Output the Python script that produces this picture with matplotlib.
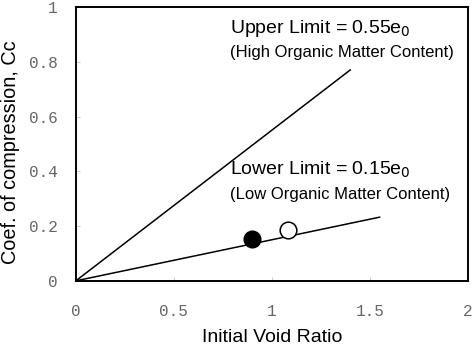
import matplotlib
matplotlib.use("Agg")
import matplotlib.pyplot as plt
import numpy as np

# limits: Cc = k * e0
upper_k = 0.55
lower_k = 0.15
upper_e_max = 1.40
lower_e_max = 1.55

# measured soils
filled_e = [0.90]
filled_cc = [0.152]
open_e = [1.08]
open_cc = [0.186]

x_ticks = [0, 0.5, 1, 1.5, 2]
x_tick_labels = ["0", "0.5", "1", "1.5", "2"]
y_ticks = [0, 0.2, 0.4, 0.6, 0.8, 1]
y_tick_labels = ["0", "0.2", "0.4", "0.6", "0.8", "1"]

plt.rcParams['font.family'] = ['Liberation Sans', 'DejaVu Sans']

fig = plt.figure(figsize=(4.74, 3.48), dpi=100)
ax = fig.add_axes([0.160, 0.193, 0.827, 0.787])

ex_u = np.array([0, upper_e_max])
ex_l = np.array([0, lower_e_max])
ax.plot(ex_u, upper_k * ex_u, color='black', lw=1.1)
ax.plot(ex_l, lower_k * ex_l, color='black', lw=1.1)

ax.plot(filled_e, filled_cc, 'o', ms=12, mfc='black', mec='black', zorder=3)
ax.plot(open_e, open_cc, 'o', ms=12, mfc='white', mec='black', mew=1.1, zorder=3)

ax.set_xlim(0, 2)
ax.set_ylim(0, 1)
ax.set_xticks(x_ticks)
ax.set_xticklabels(x_tick_labels)
ax.set_yticks(y_ticks)
ax.set_yticklabels(y_tick_labels)
ax.tick_params(direction='in', length=3, color='#cccccc', labelcolor='#666666',
               labelsize=11.5, width=0.8)
ax.tick_params(axis='x', pad=17)
ax.tick_params(axis='y', pad=13)
for lbl in ax.get_xticklabels() + ax.get_yticklabels():
    lbl.set_family('Liberation Mono')

for sp in ax.spines.values():
    sp.set_linewidth(1.4)

ax.set_ylabel("Coef. of compression, Cc", fontsize=14.3)
ax.set_xlabel("Initial Void Ratio", fontsize=14)
ax.yaxis.set_label_coords(-0.142, 0.47)
ax.xaxis.set_label_coords(0.5, -0.177)

ax.text(0.786, 0.905, r"Upper Limit = 0.55e$_0$", fontsize=14)
ax.text(0.786, 0.818, "(High Organic Matter Content)", fontsize=12)
ax.text(0.786, 0.387, r"Lower Limit = 0.15e$_0$", fontsize=14)
ax.text(0.786, 0.299, "(Low Organic Matter Content)", fontsize=12)

fig.savefig("out.png", dpi=100)
